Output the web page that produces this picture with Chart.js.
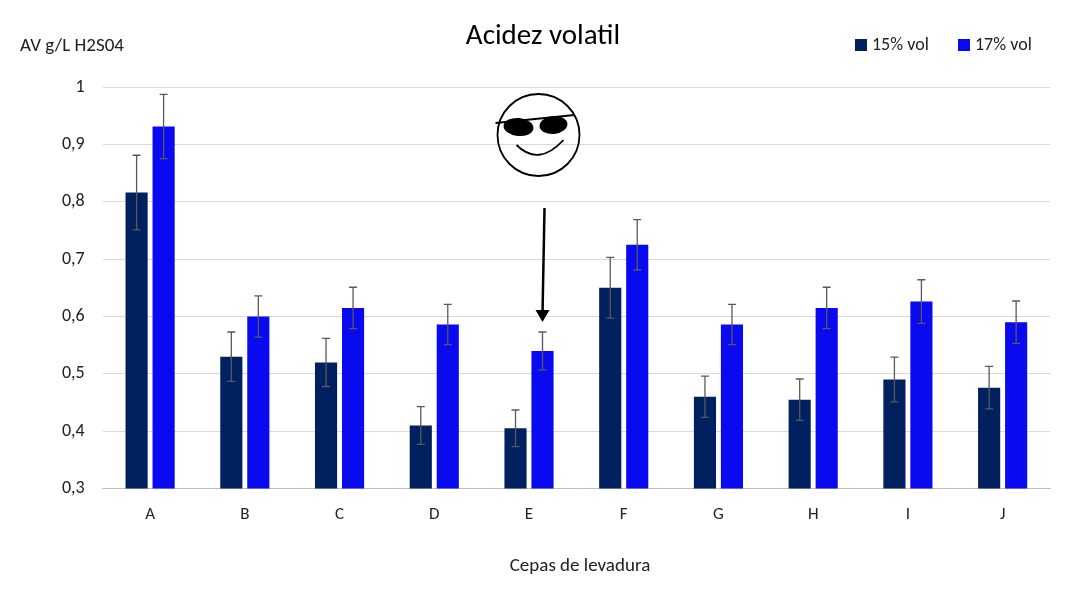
<!DOCTYPE html>
<html><head><meta charset="utf-8">
<script src="https://cdn.jsdelivr.net/npm/chart.js@4/dist/chart.umd.min.js"></script>
<style>html,body{margin:0;background:#fff}#w{width:1084px;height:607px}</style>
</head><body><div id="w"><canvas id="c"></canvas></div>
<script>
const categories=['A','B','C','D','E','F','G','H','I','J'];
const vol15=[0.816,0.53,0.52,0.41,0.405,0.65,0.46,0.455,0.49,0.476];
const vol17=[0.931,0.60,0.615,0.586,0.54,0.725,0.586,0.615,0.626,0.59];
const err15=[0.065,0.043,0.042,0.033,0.032,0.053,0.036,0.036,0.039,0.037];
const err17=[0.056,0.036,0.036,0.035,0.033,0.044,0.035,0.036,0.038,0.037];
const yTicks=[0.3,0.4,0.5,0.6,0.7,0.8,0.9,1];
const F='Calibri, Carlito, "Open Sans", sans-serif';
const extra={id:'extra',afterDatasetsDraw(ch){
 const c=ch.ctx,ys=ch.scales.y,ca=ch.chartArea;
 const errs=[err15,err17];
 c.save();c.strokeStyle='#595959';c.lineWidth=1.3;
 ch.data.datasets.forEach((ds,i)=>{ch.getDatasetMeta(i).data.forEach((b,j)=>{
  const v=ds.data[j],e=errs[i][j],t=ys.getPixelForValue(v+e),u=ys.getPixelForValue(v-e);
  c.beginPath();c.moveTo(b.x,t);c.lineTo(b.x,u);c.moveTo(b.x-4,t);c.lineTo(b.x+4,t);c.moveTo(b.x-4,u);c.lineTo(b.x+4,u);c.stroke();});});
 c.fillStyle='#000';c.font='29px '+F;c.textAlign='center';c.textBaseline='middle';
 c.fillText('Acidez volatil',543,37);
 c.font='19px '+F;c.textAlign='left';c.fillStyle='#222';c.fillText('AV g/L H2S04',20,46);
 c.textAlign='center';c.fillText('Cepas de levadura',580,566);
 c.textAlign='left';c.font='18px '+F;
 c.fillStyle='#002060';c.fillRect(855,39,12,12);c.fillStyle='#222';c.fillText('15% vol',872,45);
 c.fillStyle='#0A0AF0';c.fillRect(958,39,12,12);c.fillStyle='#222';c.fillText('17% vol',975,45);
 const bE=ch.getDatasetMeta(1).data[4];const tip=ys.getPixelForValue(vol17[4]+err17[4])-12;
 c.strokeStyle='#000';c.lineWidth=2.5;c.beginPath();c.moveTo(bE.x+2,208);c.lineTo(bE.x,tip-6);c.stroke();
 c.fillStyle='#000';c.beginPath();c.moveTo(bE.x-7,tip-10);c.lineTo(bE.x+7,tip-10);c.lineTo(bE.x,tip+2);c.closePath();c.fill();
 const fx=bE.x-4,fy=135;c.lineWidth=1.8;c.beginPath();c.arc(fx,fy,41,0,Math.PI*2);c.stroke();
 c.beginPath();c.ellipse(fx-20,fy-8,15,9,0.1,0,Math.PI*2);c.fill();
 c.beginPath();c.ellipse(fx+15,fy-10,14,9,-0.1,0,Math.PI*2);c.fill();
 c.beginPath();c.moveTo(fx-43,fy-12);c.lineTo(fx+36,fy-20);c.stroke();
 c.beginPath();c.moveTo(fx-22,fy+10);c.quadraticCurveTo(fx,fy+32,fx+25,fy+5);c.stroke();
 c.restore();}};
new Chart(document.getElementById('c'),{type:'bar',
 data:{labels:categories,datasets:[
  {label:'15% vol',data:vol15,backgroundColor:'#002060'},
  {label:'17% vol',data:vol17,backgroundColor:'#0A0AF0'}]},
 options:{responsive:true,maintainAspectRatio:false,animation:false,
  layout:{padding:{top:87,left:44,right:34,bottom:74}},
  categoryPercentage:0.57,barPercentage:0.82,
  plugins:{legend:{display:false},tooltip:{enabled:false}},
  scales:{
   x:{grid:{display:false},border:{color:'#bfbfbf'},ticks:{color:'#222',font:{size:17,family:F},padding:8}},
   y:{min:0.3,max:1,afterBuildTicks:a=>{a.ticks=yTicks.map(v=>({value:v}));},
    grid:{color:'#d9d9d9',drawTicks:false},border:{display:false},
    ticks:{color:'#222',font:{size:18,family:F},padding:18,callback:v=>String(+v.toFixed(1)).replace('.',',')}}}},
 plugins:[extra]});
</script></body></html>
